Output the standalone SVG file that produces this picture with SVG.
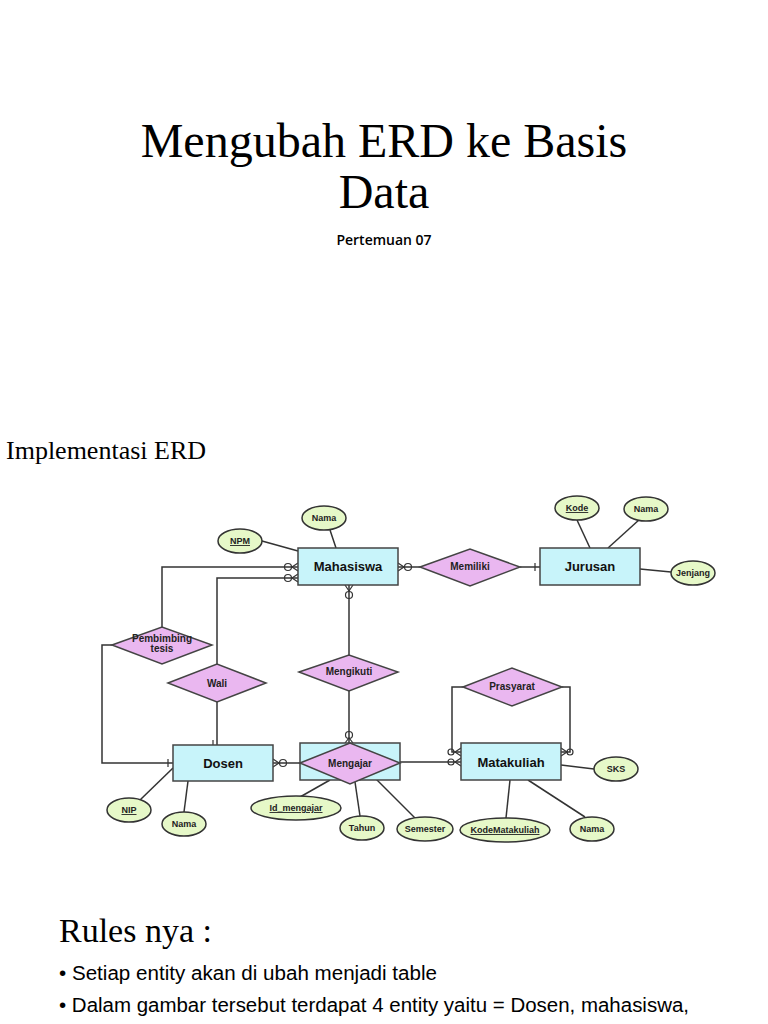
<svg xmlns="http://www.w3.org/2000/svg" width="768" height="1024" viewBox="0 0 768 1024">
<style>
.ent{fill:#c8f4fa;stroke:#444;stroke-width:1.5}
.rel{fill:#eab7f0;stroke:#444;stroke-width:1.5}
.att{fill:#e6f8c8;stroke:#333;stroke-width:1.5}
.ln{fill:none;stroke:#333;stroke-width:1.5}
.ck{fill:none;stroke:#333;stroke-width:1.2}
.et{font-family:"Liberation Sans",Arial,sans-serif;font-weight:bold;font-size:13px;text-anchor:middle;fill:#111}
.rt{font-family:"Liberation Sans",Arial,sans-serif;font-weight:bold;font-size:10px;text-anchor:middle;fill:#222}
.at{font-family:"Liberation Sans",Arial,sans-serif;font-weight:bold;font-size:9px;text-anchor:middle;fill:#222}
.serif{font-family:"Liberation Serif","Times New Roman",serif;fill:#000}
.body{font-family:"Liberation Sans",Arial,sans-serif;font-size:20px;fill:#000}
</style>
<rect width="768" height="1024" fill="#fff"/>
<text class="serif" x="384" y="157" font-size="48" text-anchor="middle">Mengubah ERD ke Basis</text>
<text class="serif" x="384" y="208" font-size="48" text-anchor="middle">Data</text>
<text x="384" y="245" font-family="Open Sans,Liberation Sans,sans-serif" font-size="14" font-weight="600" text-anchor="middle">Pertemuan 07</text>
<text class="serif" x="6" y="459" font-size="26">Implementasi ERD</text>

<g id="connectors">
<path class="ln" d="M162,627 V567 H298"/>
<path class="ln" d="M112,645 H102 V763 H173"/>
<path class="ln" d="M217,664 V578 H298"/>
<path class="ln" d="M217,702 V745"/>
<path class="ln" d="M349,585 V655"/>
<path class="ln" d="M349,691 V743"/>
<path class="ln" d="M273,763 H300"/>
<path class="ln" d="M400,762 H461"/>
<path class="ln" d="M398,567 H420"/>
<path class="ln" d="M520,567 H540"/>
<path class="ln" d="M463,687 H452 V752 H461"/>
<path class="ln" d="M562,687 H570 V752 H561"/>
<path class="ln" d="M262,541 L298,551"/>
<path class="ln" d="M330,530 L336,548"/>
<path class="ln" d="M577,520 L590,548"/>
<path class="ln" d="M640,519 L608,548"/>
<path class="ln" d="M640,569 L671,572"/>
<path class="ln" d="M173,768 L140,800"/>
<path class="ln" d="M188,781 L184,812"/>
<path class="ln" d="M330,780 L300,797"/>
<path class="ln" d="M355,782 L360,816"/>
<path class="ln" d="M375,778 L415,818"/>
<path class="ln" d="M510,780 L506,818"/>
<path class="ln" d="M528,780 L585,817"/>
<path class="ln" d="M561,765 L594,769"/>
<path class="ck" d="M298,563 L292,567 L298,571 M298,574 L292,578 L298,582"/>
<circle class="ck" cx="288" cy="567" r="3.5"/><circle class="ck" cx="288" cy="578" r="3.5"/>
<path class="ck" d="M398,563 L404,567 L398,571"/><circle class="ck" cx="408" cy="567" r="3.5"/>
<path class="ck" d="M345,585 L349,591 L353,585"/><circle class="ck" cx="349" cy="595" r="3.5"/>
<circle class="ck" cx="349" cy="735" r="3.5"/><path class="ck" d="M345,743 L349,738 L353,743"/>
<path class="ck" d="M273,759 L279,763 L273,767"/><circle class="ck" cx="283" cy="763" r="3.5"/>
<path class="ck" d="M461,748 L455,752 L461,756 M461,758 L455,762 L461,766"/>
<circle class="ck" cx="451" cy="752" r="3"/><circle class="ck" cx="451" cy="762" r="3"/>
<path class="ck" d="M561,748 L567,752 L561,756"/><circle class="ck" cx="570" cy="752" r="3"/>
<path class="ck" d="M535,563 V571 M168,759 V767 M213,740 V745"/>
</g>

<g id="mahasiswa"><rect class="ent" x="298" y="548" width="100" height="37"/><text class="et" x="348" y="571">Mahasiswa</text></g>
<g id="jurusan"><rect class="ent" x="540" y="548" width="100" height="37"/><text class="et" x="590" y="571">Jurusan</text></g>
<g id="dosen"><rect class="ent" x="173" y="745" width="100" height="36"/><text class="et" x="223" y="768" font-size="11">Dosen</text></g>
<g id="matakuliah"><rect class="ent" x="461" y="743" width="100" height="37"/><text class="et" x="511" y="767">Matakuliah</text></g>
<g id="mengajar"><rect class="ent" x="300" y="743" width="100" height="37"/><polygon class="rel" points="300,763 350,743 400,763 350,784"/><text class="rt" x="350" y="767" font-size="11">Mengajar</text></g>
<g id="memiliki"><polygon class="rel" points="420,567 470,549 520,567 470,586"/><text class="rt" x="470" y="570" font-size="9">Memiliki</text></g>
<g id="pembimbing"><polygon class="rel" points="112,645 162,627 212,645 162,664"/><text class="rt" x="162" y="642" font-size="6">Pembimbing</text><text class="rt" x="162" y="652" font-size="6">tesis</text></g>
<g id="wali"><polygon class="rel" points="168,683 217,664 266,683 217,702"/><text class="rt" x="217" y="687">Wali</text></g>
<g id="mengikuti"><polygon class="rel" points="299,672 349,655 398,672 349,691"/><text class="rt" x="349" y="675" font-size="9">Mengikuti</text></g>
<g id="prasyarat"><polygon class="rel" points="463,687 512,668 562,687 512,706"/><text class="rt" x="512" y="690">Prasyarat</text></g>

<g id="a-nama1"><ellipse class="att" cx="324" cy="518" rx="22" ry="12"/><text class="at" x="324" y="521">Nama</text></g>
<g id="a-npm"><ellipse class="att" cx="240" cy="541" rx="22" ry="12"/><text class="at" x="240" y="544" text-decoration="underline">NPM</text></g>
<g id="a-kode"><ellipse class="att" cx="577" cy="508" rx="22" ry="12"/><text class="at" x="577" y="511" text-decoration="underline">Kode</text></g>
<g id="a-nama2"><ellipse class="att" cx="646" cy="509" rx="22" ry="12"/><text class="at" x="646" y="512">Nama</text></g>
<g id="a-jenjang"><ellipse class="att" cx="693" cy="573" rx="22" ry="12"/><text class="at" x="693" y="576" font-size="7.5">Jenjang</text></g>
<g id="a-nip"><ellipse class="att" cx="129" cy="810" rx="22" ry="12"/><text class="at" x="129" y="813" text-decoration="underline">NIP</text></g>
<g id="a-nama3"><ellipse class="att" cx="184" cy="824" rx="22" ry="12"/><text class="at" x="184" y="827">Nama</text></g>
<g id="a-idmengajar"><ellipse class="att" cx="296" cy="808" rx="45" ry="12" stroke-width="2.5"/><text class="at" x="296" y="811" text-decoration="underline">Id_mengajar</text></g>
<g id="a-tahun"><ellipse class="att" cx="362" cy="828" rx="22" ry="12"/><text class="at" x="362" y="831">Tahun</text></g>
<g id="a-semester"><ellipse class="att" cx="425" cy="829" rx="28" ry="12" stroke-width="2.5"/><text class="at" x="425" y="832">Semester</text></g>
<g id="a-kodemk"><ellipse class="att" cx="505" cy="830" rx="45" ry="12" stroke-width="2.5"/><text class="at" x="505" y="833" font-size="7.5" text-decoration="underline">KodeMatakuliah</text></g>
<g id="a-nama4"><ellipse class="att" cx="592" cy="829" rx="22" ry="12"/><text class="at" x="592" y="832">Nama</text></g>
<g id="a-sks"><ellipse class="att" cx="616" cy="769" rx="22" ry="12"/><text class="at" x="616" y="772" font-size="10">SKS</text></g>

<text class="serif" x="59" y="942" font-size="34">Rules nya :</text>
<text class="body" x="59" y="980" textLength="378" lengthAdjust="spacingAndGlyphs">• Setiap entity akan di ubah menjadi table</text>
<text class="body" x="59" y="1012" textLength="630" lengthAdjust="spacingAndGlyphs">• Dalam gambar tersebut terdapat 4 entity yaitu = Dosen, mahasiswa,</text>
</svg>
